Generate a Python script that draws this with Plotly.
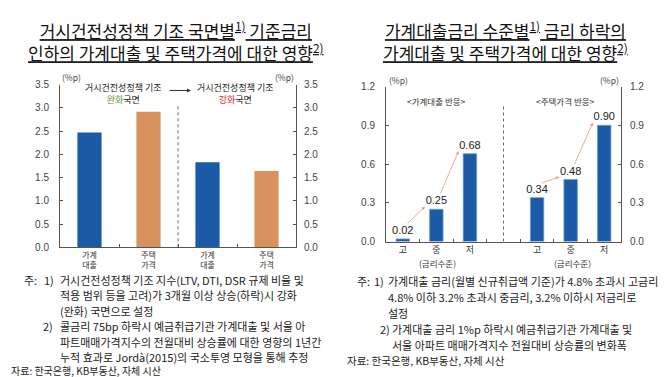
import plotly.graph_objects as go

W, H = 670, 377

# ---------------- data ----------------
left_cats = ["가계<br>대출", "주택<br>가격", "가계<br>대출", "주택<br>가격"]
left_vals = [2.47, 2.92, 1.83, 1.64]
left_colors = ["#1B5AA7", "#D8925E", "#1B5AA7", "#D8925E"]

right_levels = ["고", "중", "저"]
loan_vals = [0.02, 0.25, 0.68]      # 가계대출 반응
house_vals = [0.34, 0.48, 0.90]     # 주택가격 반응
right_vals = loan_vals + house_vals
right_labels = right_levels + right_levels

BLUE = "#1B5AA7"
ORANGE_ARROW = "#E8996C"
AX = "#555555"
TXT = "#222222"
KR = "Noto Sans CJK KR"
NUM = "Liberation Sans, Noto Sans CJK KR"

def px(x):
    return x / W

def py(y):
    return 1 - y / H

left_x = list(range(len(left_vals)))
right_x = [0, 1, 2, 4, 5, 6]

fig = go.Figure()

# left chart bars
fig.add_trace(go.Bar(x=left_x, y=left_vals, marker=dict(color=left_colors, line=dict(width=0)),
                     width=0.41, xaxis="x", yaxis="y", hoverinfo="skip", showlegend=False))
fig.add_trace(go.Scatter(x=left_x, y=left_vals, mode="markers", marker=dict(opacity=0),
                         xaxis="x", yaxis="y2", hoverinfo="skip", showlegend=False))

# right chart bars
fig.add_trace(go.Bar(x=right_x, y=right_vals, marker=dict(color=BLUE, line=dict(width=0.8, color="#6E9BD2")),
                     width=0.4, text=[f"{v:.2f}" for v in right_vals], textposition="outside",
                     constraintext="none",
                     textfont=dict(family=NUM, size=11, color=TXT), cliponaxis=False,
                     xaxis="x2", yaxis="y3", hoverinfo="skip", showlegend=False))
fig.add_trace(go.Scatter(x=right_x, y=right_vals, mode="markers", marker=dict(opacity=0),
                         xaxis="x2", yaxis="y4", hoverinfo="skip", showlegend=False))

tickfont = dict(family=NUM, size=10, color="#444444")
catfont = dict(family=KR, size=8, color="#333333")

ydom_l = [py(241), py(73)]
ydom_r = [py(235), py(75)]

fig.update_layout(
    width=W, height=H, margin=dict(l=0, r=0, t=0, b=0),
    paper_bgcolor="white", plot_bgcolor="white", showlegend=False,
    xaxis=dict(domain=[px(52), px(288)], anchor="y", range=[-0.5, 3.5],
               tickvals=left_x, ticktext=left_cats, ticks="", tickfont=catfont, ticklabelstandoff=0,
               showline=True, linecolor=AX, linewidth=1, showgrid=False, zeroline=False,
               minor=dict(tickvals=[0.5, 1.5, 2.5], ticks="inside", ticklen=3, tickcolor=AX, showgrid=False)),
    yaxis=dict(domain=ydom_l, anchor="x", range=[0, 3.5], dtick=0.5, tickformat=".1f",
               ticks="inside", ticklen=3, tickcolor=AX, showline=True, linecolor=AX, linewidth=1,
               showgrid=False, zeroline=False, tickfont=tickfont, ticklabelstandoff=8),
    yaxis2=dict(overlaying="y", anchor="x", side="right", range=[0, 3.5], dtick=0.5, tickformat=".1f",
                ticks="inside", ticklen=3, tickcolor=AX, showline=True, linecolor=AX, linewidth=1,
                showgrid=False, zeroline=False, tickfont=tickfont, ticklabelstandoff=5),
    xaxis2=dict(domain=[px(378), px(613)], anchor="y3", range=[-0.5, 6.5],
                tickvals=right_x, ticktext=right_labels, ticks="", tickfont=dict(family=KR, size=9, color="#333333"),
                showline=True, linecolor=AX, linewidth=1, showgrid=False, zeroline=False,
                minor=dict(tickvals=[0.5, 1.5, 2.5, 3.5, 4.5, 5.5], ticks="inside", ticklen=3,
                           tickcolor=AX, showgrid=False)),
    yaxis3=dict(domain=ydom_r, anchor="x2", range=[0, 1.2], dtick=0.3, tickformat=".1f",
                ticks="inside", ticklen=3, tickcolor=AX, showline=True, linecolor=AX, linewidth=1,
                showgrid=False, zeroline=False, tickfont=tickfont, ticklabelstandoff=8),
    yaxis4=dict(overlaying="y3", anchor="x2", side="right", range=[0, 1.2], dtick=0.3, tickformat=".1f",
                ticks="inside", ticklen=3, tickcolor=AX, showline=True, linecolor=AX, linewidth=1,
                showgrid=False, zeroline=False, tickfont=tickfont, ticklabelstandoff=6),
)

shapes = [
    dict(type="line", xref="x", yref="y", x0=1.5, x1=1.5, y0=0, y1=3.08,
         line=dict(color="#666666", width=1, dash="dot")),
    dict(type="line", xref="x2", yref="y3", x0=3, x1=3, y0=0, y1=1.07,
         line=dict(color="#666666", width=1, dash="dot")),
]
fig.update_layout(shapes=shapes)

ann = []

def txt(x, y, s, size=11, color=TXT, xanchor="left", family=KR, **kw):
    ann.append(dict(x=px(x), y=py(y), xref="paper", yref="paper", text=s, showarrow=False,
                    xanchor=xanchor, yanchor="middle", font=dict(family=family, size=size, color=color), **kw))

# titles (two underlined lines in one text block each)
title_font = 17
txt(168, 28, "<u>거시건전성정책 기조 국면별<sup>1)</sup> 기준금리</u><br>"
             "<u>인하의 가계대출 및 주택가격에 대한 영향<sup>2)</sup></u>",
    size=title_font, color="#111111", xanchor="center")
txt(497, 28, "<u>가계대출금리 수준별<sup>1)</sup> 금리 하락의</u><br>"
             "<u>가계대출 및 주택가격에 대한 영향<sup>2)</sup></u>",
    size=title_font, color="#111111", xanchor="center")

# unit labels
txt(52, 65, "(%p)", size=8.5, color="#444444")
txt(288, 65, "(%p)", size=8.5, color="#444444", xanchor="right")
txt(379, 68, "(%p)", size=8.5, color="#444444")
txt(613, 68, "(%p)", size=8.5, color="#444444", xanchor="right")

# left chart in-plot annotations
ann.append(dict(x=0.57, y=3.30, xref="x", yref="y", showarrow=False, xanchor="center", yanchor="middle",
                text="거시건전성정책 기조<br><span style='color:#5E9A2E'>완화</span>국면",
                font=dict(family=KR, size=9, color=TXT)))
ann.append(dict(x=2.47, y=3.30, xref="x", yref="y", showarrow=False, xanchor="center", yanchor="middle",
                text="거시건전성정책 기조<br><span style='color:#E02020'>강화</span>국면",
                font=dict(family=KR, size=9, color=TXT)))
ann.append(dict(x=1.72, y=3.375, ax=1.33, ay=3.375, xref="x", yref="y", axref="x", ayref="y",
                text="", showarrow=True, arrowhead=2, arrowsize=0.8, arrowwidth=1, arrowcolor="#333333"))

# right chart in-plot annotations
ann.append(dict(x=1, y=1.09, xref="x2", yref="y3", showarrow=False, xanchor="center", yanchor="middle",
                text="<가계대출 반응>", font=dict(family=KR, size=8.5, color="#333333")))
ann.append(dict(x=4.85, y=1.09, xref="x2", yref="y3", showarrow=False, xanchor="center", yanchor="middle",
                text="<주택가격 반응>", font=dict(family=KR, size=8.5, color="#333333")))

# orange arrows between consecutive bars in each group
for grp in (right_x[:3], right_x[3:]):
    for a, b in zip(grp[:-1], grp[1:]):
        va = right_vals[right_x.index(a)]
        vb = right_vals[right_x.index(b)]
        ann.append(dict(x=b - 0.34, y=vb + 0.02, ax=a + 0.1, ay=va + 0.11,
                        xref="x2", yref="y3", axref="x2", ayref="y3", text="", showarrow=True,
                        arrowhead=2, arrowsize=0.8, arrowwidth=0.8, arrowcolor=ORANGE_ARROW))

# "(금리수준)" under groups
txt(429, 257, "(금리수준)", size=8.5, color="#333333", xanchor="center")
txt(564, 257, "(금리수준)", size=8.5, color="#333333", xanchor="center")

# footnotes - left
fs = 11
txt(14, 274.5, "주:", size=fs)
txt(34, 274.5, "1)", size=fs)
txt(50, 274.5, "거시건전성정책 기조 지수(LTV, DTI, DSR 규제 비율 및", size=fs)
txt(50, 290.5, "적용 범위 등을 고려)가 3개월 이상 상승(하락)시 강화", size=fs)
txt(50, 306.5, "(완화) 국면으로 설정", size=fs)
txt(33, 322.5, "2)", size=fs)
txt(50, 322.5, "콜금리 75bp 하락시 예금취급기관 가계대출 및 서울 아", size=fs)
txt(50, 338.5, "파트매매가격지수의 전월대비 상승률에 대한 영향의 1년간", size=fs)
txt(50, 354, "누적 효과로 Jordà(2015)의 국소투영 모형을 통해 추정", size=fs)
txt(1, 368, "자료: 한국은행, KB부동산, 자체 시산", size=10)

# footnotes - right
txt(347, 276, "주:", size=fs)
txt(364, 276, "1)", size=fs)
txt(378, 276, "가계대출 금리(월별 신규취급액 기준)가 4.8% 초과시 고금리", size=fs)
txt(378, 292.5, "4.8% 이하 3.2% 초과시 중금리, 3.2% 이하시 저금리로", size=fs)
txt(378, 309, "설정", size=fs)
txt(370, 325.5, "2)", size=fs)
txt(382, 325.5, "가계대출 금리 1%p 하락시 예금취급기관 가계대출 및", size=fs)
txt(382, 342, "서울 아파트 매매가격지수 전월대비 상승률의 변화폭", size=fs)
txt(337, 358, "자료: 한국은행, KB부동산, 자체 시산", size=10.5)

fig.update_layout(annotations=ann)

fig.write_html("out.html")
